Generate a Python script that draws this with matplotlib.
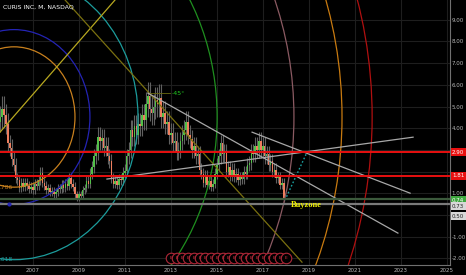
import numpy as np
import matplotlib
matplotlib.use("Agg")
import matplotlib.pyplot as plt
from matplotlib.patches import Ellipse
import matplotlib.transforms as mtransforms

# ---------------- data ----------------
start_year = 2005.58          # first monthly candle
first_open = 4.3
closes = [4.5, 4.9, 4.6, 4.2, 3.3, 3.1, 2.6, 2.3, 1.7, 1.6,
          1.25, 1.5, 1.3, 1.5, 1.35, 1.2, 1.3, 1.15, 1.45, 1.35,
          1.6, 1.95, 1.5, 1.35, 1.15, 1.25, 1.05, 1.1, 0.95, 1.05,
          1.25, 1.2, 1.4, 1.25, 1.45, 1.35, 1.7, 1.45, 1.3, 0.95,
          0.8, 0.95, 0.9, 1.15, 1.25, 1.55, 1.45, 1.9, 2.2, 2.7,
          2.9, 3.6, 3.4, 3.55, 3.1, 3.2, 2.7, 2.5, 1.7, 1.45,
          1.55, 1.4, 1.65, 1.6, 1.95, 2.05, 2.7, 3.0, 3.9, 3.6,
          4.1, 3.7, 4.2, 4.1, 4.6, 4.4, 5.1, 5.5, 4.9, 4.7,
          5.0, 5.3, 5.1, 5.4, 4.5, 4.7, 4.2, 4.3, 3.7, 3.8,
          3.3, 3.4, 2.9, 3.0, 3.4, 3.7, 3.9, 4.3, 3.7, 3.5,
          3.0, 3.2, 2.7, 2.8, 2.1, 1.9, 1.5, 1.8, 1.4, 1.55,
          1.3, 1.45, 1.9, 2.3, 2.7, 3.3, 2.8, 2.9, 2.0, 2.2,
          1.8, 2.1, 1.75, 1.9, 1.6, 1.75, 1.65, 2.0, 1.9, 2.3,
          2.4, 2.9, 2.8, 3.2, 3.0, 3.4, 3.0, 3.2, 2.7, 2.8,
          2.3, 2.5, 2.0, 2.1, 1.7, 1.75, 1.4, 1.5, 0.75]

# Fibonacci circles (center in year/price, radii in years)
fib_center = (2006.18, 4.52)
fib_radii = [2.65, 3.30, 5.39, 8.83, 12.17, 14.26, 15.57]
fib_colors = ['#c8801e', '#2424b4', '#1c9c9c', '#1f8f1f', '#8b5a62', '#c87a10', '#b01010']
fib_aspect = 1.22
fib_labels = {0: '.786', 2: '.618'}

# trend lines: ((year, price), (year, price))
yellow_line = ((2005.57, 3.82), (2010.57, 9.91))
olive_line = ((2008.40, 9.91), (2018.70, -2.17))
gray_lines = [((2012.00, 5.62), (2022.87, -0.83)),
              ((2016.53, 3.82), (2023.40, 1.01)),
              ((2010.22, 1.66), (2023.53, 3.59))]
dotted_line = ((2017.96, 0.69), (2018.92, 2.90))

red_levels = [2.90, 1.81]
green_level = 0.74
gray_level = 0.50

earnings_dates = [2013.0 + 0.25 * k for k in range(21)]

x_ticks = [2007, 2009, 2011, 2013, 2015, 2017, 2019, 2021, 2023, 2025]
y_ticks = [-2, -1, 1, 4, 5, 6, 7, 8, 9]

# ---------------- figure ----------------
W, H = 466, 275
fig = plt.figure(figsize=(W / 100, H / 100), dpi=100, facecolor='black')
ax = fig.add_axes([0, 10 / H, 450 / W, 265 / H], facecolor='black')
ax.set_xlim(2005.57, 2005.57 + 450 / 23)
ax.set_ylim(-2.30, 9.91)

# grid
for xt in x_ticks:
    ax.axvline(xt, color='#1e1e1e', lw=0.8, zorder=0)
for yv in range(-2, 10):
    ax.axhline(yv, color='#1e1e1e', lw=0.8, zorder=0)

# candles
closes_a = np.array(closes)
opens_a = np.concatenate([[first_open], closes_a[:-1]])
dates = start_year + np.arange(len(closes_a)) / 12.0
top = np.maximum(opens_a, closes_a)
bot = np.minimum(opens_a, closes_a)
highs = top * 1.10 + 0.08
lows = np.maximum(bot * 0.90 - 0.06, 0.05)
ax.vlines(dates, lows, highs, color='#606060', lw=0.8, zorder=2)
cols = np.where(closes_a >= opens_a, '#52c048', '#ee7e5e')
heights = np.where(np.abs(closes_a - opens_a) < 0.04, 0.04, closes_a - opens_a)
ax.bar(dates, heights, bottom=opens_a, width=0.065, color=cols, lw=0, zorder=3)

# fib circles
for i, (r, c) in enumerate(zip(fib_radii, fib_colors)):
    e = Ellipse(fib_center, 2 * r, 2 * r * fib_aspect, fill=False, ec=c, lw=0.9, zorder=4)
    ax.add_patch(e)
    if i in fib_labels:
        ax.text(fib_center[0] - 0.05, fib_center[1] - r * fib_aspect, fib_labels[i],
                color=c, fontsize=4.3, ha='right', va='center', zorder=6)
ax.plot([fib_center[0] - 0.2], [fib_center[1] - fib_radii[1] * fib_aspect], 'o',
        color=fib_colors[1], ms=2, zorder=6)

# lines
def seg(p, **kw):
    ax.plot([p[0][0], p[1][0]], [p[0][1], p[1][1]], **kw)

seg(yellow_line, color='#b8a820', lw=0.9, zorder=4)
seg(olive_line, color='#7a7010', lw=0.9, zorder=4)
for g in gray_lines:
    seg(g, color='#a8a8a8', lw=0.9, zorder=5)
seg(dotted_line, color='#1aa0a0', lw=1.0, ls=(0, (1.2, 1.5)), zorder=5)

for lv in red_levels:
    ax.axhline(lv, color='#e81010', lw=1.4, zorder=5)
ax.axhline(green_level, color='#3c5a3c', lw=1.6, zorder=5)
ax.axhline(gray_level, color='#7a7a7a', lw=1.6, zorder=5)

# -45 degree annotation
ax.plot([2012.09, 2012.96], [5.62, 5.62], color='#6a6a10', lw=0.6, zorder=6)
ax.text(2013.05, 5.58, '-45°', color='#22cc22', fontsize=4.5, ha='left', va='center', zorder=6)

# Buyzone
ax.text(2018.2, 0.47, 'Buyzone', color='#f0f000', fontsize=6, fontweight='bold',
        family='Liberation Serif', ha='left', va='center', zorder=7)

# earnings markers
trans = mtransforms.blended_transform_factory(ax.transData, ax.transAxes)
ax.plot(earnings_dates, [0.027] * len(earnings_dates), 'o', transform=trans,
        ms=7.6, mfc='black', mec='#b02838', mew=0.8, zorder=8, clip_on=False)
for d in earnings_dates:
    ax.text(d, 0.027, 'E', transform=trans, color='#d03040', fontsize=3.2,
            ha='center', va='center', zorder=9)

# title
ax.text(0.006, 0.972, 'CURIS INC, M, NASDAQ', transform=ax.transAxes, color='white',
        fontsize=4.4, ha='left', va='center', zorder=10)

# axes styling
for s in ['top', 'left']:
    ax.spines[s].set_visible(False)
ax.spines['right'].set_color('#707070')
ax.spines['bottom'].set_color('#707070')
ax.spines['right'].set_linewidth(0.8)
ax.spines['bottom'].set_linewidth(0.8)
ax.yaxis.tick_right()
ax.set_yticks(y_ticks)
ax.set_yticklabels(['%.2f' % v for v in y_ticks])
ax.set_xticks(x_ticks)
ax.set_xticklabels([str(v) for v in x_ticks])
ax.tick_params(axis='both', length=0, colors='#b8b8b8', labelsize=4.0)
ax.tick_params(axis='y', pad=1.2)
ax.tick_params(axis='x', pad=2)

# price boxes on the right axis
rtrans = mtransforms.blended_transform_factory(ax.transAxes, ax.transData)
boxes = [(2.90, 0, '#e81010', 'white'), (1.81, 0, '#e81010', 'white'),
         (0.74, -1, '#3ea83e', 'white'), (0.73, -7, '#d8d8d8', '#202020'),
         (0.50, -12, '#d8d8d8', '#202020')]
for val, off, fc, tc in boxes:
    ax.annotate('%.2f' % val, xy=(1.0, val), xycoords=rtrans,
                xytext=(2, off), textcoords='offset pixels',
                color=tc, fontsize=4.0, ha='left', va='center', zorder=11,
                bbox=dict(boxstyle='square,pad=0.25', fc=fc, ec='none'),
                annotation_clip=False)

fig.savefig('out.png', dpi=100, facecolor='black')
